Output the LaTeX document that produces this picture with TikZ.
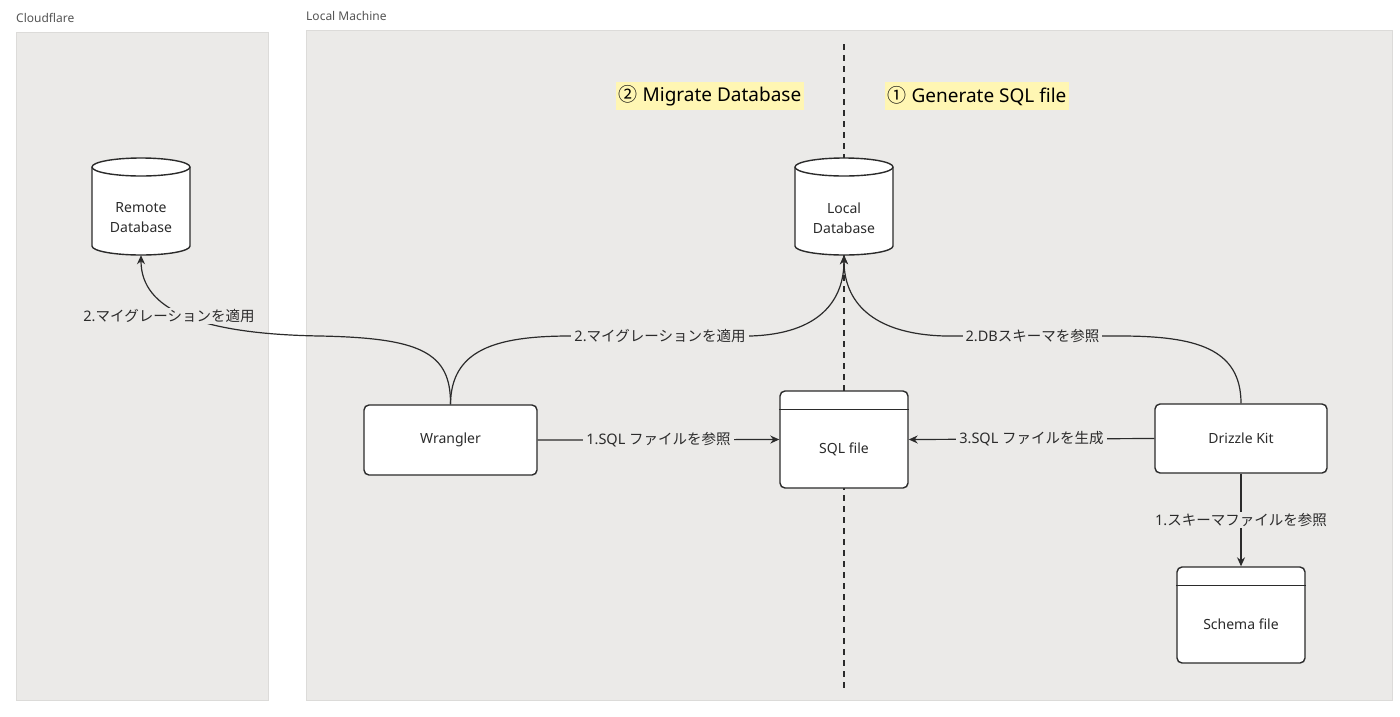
\documentclass[tikz,border=0pt]{standalone}
\usepackage{fontspec}
\setmainfont{Noto Sans}
\newfontfamily\jp{Noto Sans CJK JP}
\usetikzlibrary{arrows.meta}
\definecolor{panel}{HTML}{EBEAE8}
\definecolor{panelline}{HTML}{DCDBD9}
\definecolor{ink}{HTML}{2B2B2B}
\definecolor{hl}{HTML}{FFF6B3}
\definecolor{titletxt}{HTML}{555555}
\newcommand\dbbody[1]{%
  \draw[draw=ink,line width=1.4pt,fill=white]
    ([xshift=-49pt,yshift=39.5pt]#1) -- ([xshift=-49pt,yshift=-39.5pt]#1)
    arc[start angle=180,end angle=360,x radius=49pt,y radius=9pt]
    -- ([xshift=49pt,yshift=39.5pt]#1)
    arc[start angle=0,end angle=180,x radius=49pt,y radius=9pt] -- cycle;
  \draw[draw=ink,line width=1.4pt] ([xshift=-49pt,yshift=39.5pt]#1)
    arc[start angle=180,end angle=360,x radius=49pt,y radius=9pt];}
\begin{document}
\begin{tikzpicture}[x=1pt,y=-1pt,
  panelbox/.style={fill=panel,draw=panelline,line width=0.8pt},
  paneltitle/.style={anchor=west,inner sep=0pt,text=titletxt,font=\fontsize{12}{14}\selectfont},
  header/.style={fill=hl,inner xsep=3pt,inner ysep=0pt,minimum height=28pt,text=black,font=\fontsize{19}{22}\selectfont},
  procbox/.style={draw=ink,fill=white,line width=1.4pt,rounded corners=5pt,inner sep=0pt,font=\fontsize{14}{16}\selectfont,text=ink},
  filebox/.style={procbox,text height=28pt,text depth=0pt},
  dbtext/.style={align=center,font=\fontsize{14}{20}\selectfont,text=ink,minimum width=98pt,minimum height=74pt,inner sep=0pt},
  conn/.style={draw=ink,line width=1.2pt,-{Stealth[length=9pt,width=8pt]}},
  lbl/.style={fill=panel,inner xsep=3pt,inner ysep=1pt,text=ink,font=\fontsize{14.5}{17}\selectfont},
  divider/.style={draw=ink,line width=1.2pt,dash pattern=on 6pt off 5pt},
]
\useasboundingbox (0,0) rectangle (1400,716);
\fill[white] (0,0) rectangle (1400,716);

% panels
\draw[panelbox] (16,32) rectangle (268,700);
\draw[panelbox] (306,30) rectangle (1392,700);
\node[paneltitle] (cftitle) at (16,18) {Cloudflare};
\node[paneltitle] (lmtitle) at (306,16) {Local Machine};

% divider
\coordinate (divtop) at (844,44);
\coordinate (divbot) at (844,690);
\draw[divider] (divtop) -- (divbot);

% headers
\node[header] (h2) at (710,96) {{\jp ②} Migrate Database};
\node[header] (h1) at (977,96) {{\jp ①} Generate SQL file};

% databases
\coordinate (rdbc) at (141,206.5);
\dbbody{rdbc}
\node[dbtext] (rdb) at (141,218) {Remote\\Database};
\coordinate (ldbc) at (844,206.5);
\dbbody{ldbc}
\node[dbtext] (ldb) at (844,218) {Local\\Database};

% boxes
\node[procbox,minimum width=173pt,minimum height=70pt] (wr) at (450.5,440) {Wrangler};
\node[procbox,minimum width=172pt,minimum height=69pt] (dk) at (1241,438.5) {Drizzle Kit};
\node[filebox,minimum width=128pt,minimum height=97pt] (sql) at (844,439.5) {SQL file};
\draw[draw=ink,line width=1.4pt] ([yshift=-19pt]sql.north west) -- ([yshift=-19pt]sql.north east);
\node[filebox,minimum width=128pt,minimum height=96pt] (sch) at (1241,615) {Schema file};
\draw[draw=ink,line width=1.4pt] ([yshift=-19pt]sch.north west) -- ([yshift=-19pt]sch.north east);

% connectors
\draw[conn] (wr.east) -- node[lbl] {1.SQL {\jp ファイルを参照}} (sql.west);
\draw[conn] (dk.west) -- node[lbl] {3.SQL {\jp ファイルを生成}} (sql.east);
\draw[conn] (dk.south) -- node[lbl,pos=0.5] {1.{\jp スキーマファイルを参照}} (sch.north);

\draw[conn] (wr.north) .. controls (451,350) and (495,336) .. (570,336)
  -- node[lbl] {2.{\jp マイグレーションを適用}} (750,336)
  .. controls (820,334) and (844,300) .. (ldb.south);
\draw[conn] (dk.north) .. controls (1241,348) and (1195,336) .. (1120,336)
  -- node[lbl] {2.DB{\jp スキーマを参照}} (945,336)
  .. controls (870,334) and (844,300) .. (ldb.south);
\draw[conn] (wr.north) .. controls (451,352) and (420,338) .. (320,336)
  .. controls (200,334) and (141,310) .. (rdb.south);
\node[lbl] (rlbl) at (169,316) {2.{\jp マイグレーションを適用}};
\end{tikzpicture}
\end{document}
